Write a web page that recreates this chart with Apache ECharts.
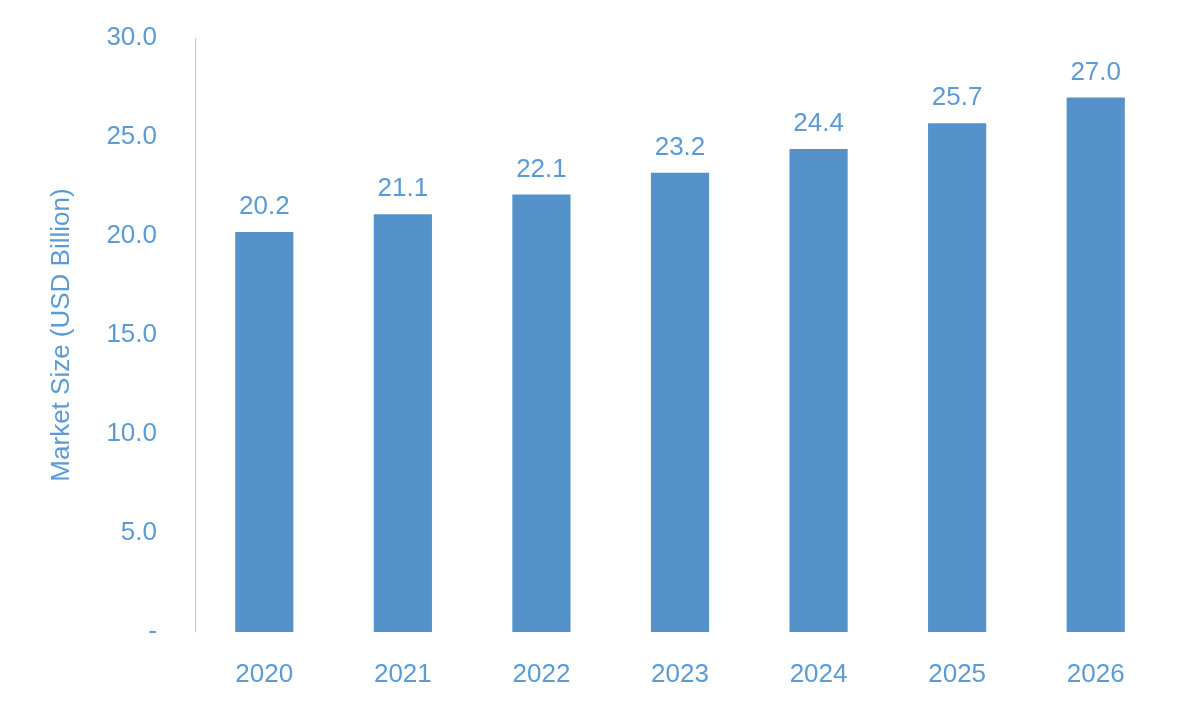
<!DOCTYPE html>
<html><head><meta charset="utf-8">
<script src="https://cdn.jsdelivr.net/npm/echarts@6/dist/echarts.min.js"></script>
<style>html,body{margin:0;padding:0;background:#fff}#c{width:1200px;height:715px}</style>
</head><body><div id="c"></div>
<script>
const categories = ['2020','2021','2022','2023','2024','2025','2026'];
const values = [20.2, 21.1, 22.1, 23.2, 24.4, 25.7, 27.0];
const col = '#5B9BD5';
const font = 'Liberation Sans';
const chart = echarts.init(document.getElementById('c'));
chart.setOption({
  animation:false,
  grid:{left:195,right:35,top:38,bottom:83},
  xAxis:{type:'category',data:categories,
    axisLine:{show:false},axisTick:{show:false},
    axisLabel:{color:col,fontSize:26,fontFamily:font,margin:30}},
  yAxis:{type:'value',min:0,max:30,interval:5,
    name:'Market Size (USD Billion)',nameLocation:'middle',nameGap:120,
    nameTextStyle:{color:col,fontSize:26,fontFamily:font},
    axisLine:{show:true,lineStyle:{color:'#9DC3E6',type:'dotted',width:1}},
    axisTick:{show:false},splitLine:{show:false},
    axisLabel:{color:col,fontSize:26,fontFamily:font,margin:38,
      formatter:v=>v===0?'-':v.toFixed(1)}},
  series:[{type:'bar',data:values,barWidth:'42%',
    itemStyle:{color:'#5592C9'},
    label:{show:true,position:'top',distance:12,color:col,fontSize:26,fontFamily:font,
      formatter:p=>p.value.toFixed(1)}}]
});
</script></body></html>
